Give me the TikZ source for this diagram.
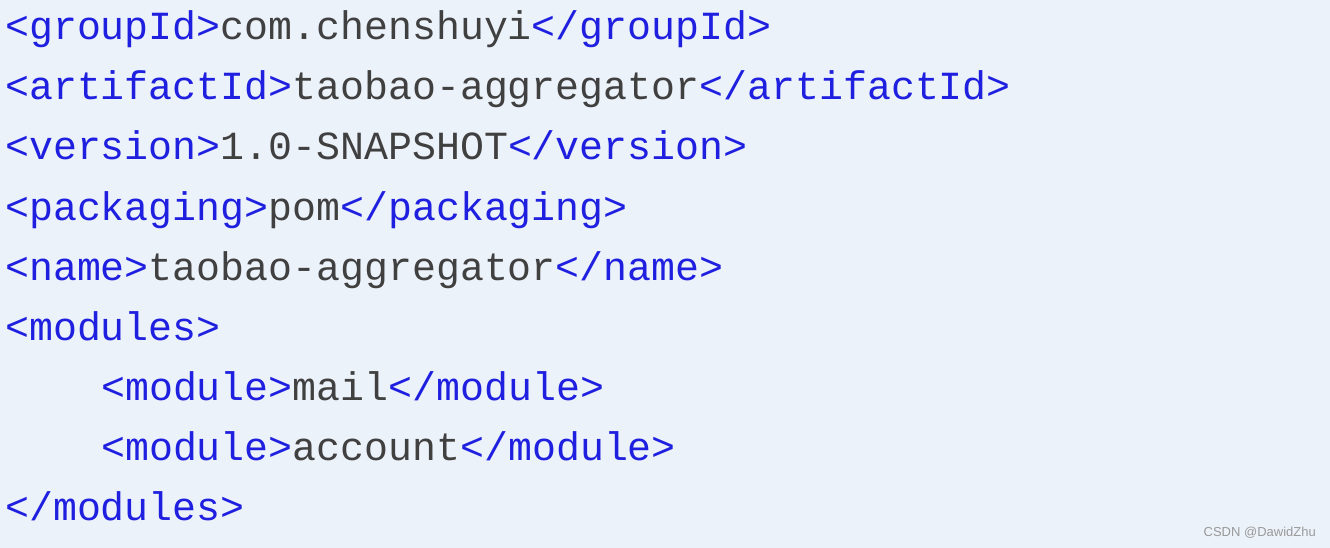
\documentclass[tikz,border=0pt]{standalone}
\usepackage{fontspec}
\setmonofont{Liberation Mono}
\setsansfont{Liberation Sans}
\definecolor{bg}{HTML}{ECF2FA}
\definecolor{tag}{HTML}{1F1FE0}
\definecolor{txt}{HTML}{404040}
\begin{document}
\begin{tikzpicture}[x=1pt,y=1pt,
  code/.style={anchor=base west,inner sep=0pt,font=\fontsize{39.9}{41}\selectfont\ttfamily,text=txt}]
\fill[bg] (0,0) rectangle (1330,-548);
\useasboundingbox (0,0) rectangle (1330,-548);
\newcommand\T[1]{\textcolor{tag}{\detokenize{#1}}}
\node[code] (l1) at (5,-40) {\T{<groupId>}com.chenshuyi\T{</groupId>}};
\node[code] (l2) at (5,-100) {\T{<artifactId>}taobao-aggregator\T{</artifactId>}};
\node[code] (l3) at (5,-160) {\T{<version>}1.0-SNAPSHOT\T{</version>}};
\node[code] (l4) at (5,-220) {\T{<packaging>}pom\T{</packaging>}};
\node[code] (l5) at (5,-280) {\T{<name>}taobao-aggregator\T{</name>}};
\node[code] (l6) at (5,-340) {\T{<modules>}};
\node[code] (l7) at (101,-400) {\T{<module>}mail\T{</module>}};
\node[code] (l8) at (101,-460) {\T{<module>}account\T{</module>}};
\node[code] (l9) at (5,-520) {\T{</modules>}};
\node[anchor=east,inner sep=0pt,font=\fontsize{13}{15}\selectfont\sffamily,text=gray!80] (wm) at (1316,-533) {CSDN @DawidZhu};
\end{tikzpicture}
\end{document}
